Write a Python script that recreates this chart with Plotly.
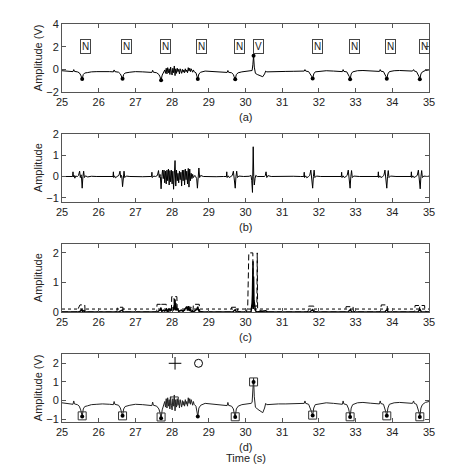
import plotly.graph_objects as go

# ---------------- data ----------------
# (a)/(d) ECG trace, time (s) and amplitude (V)
ECG_T = [25.00, 25.10, 25.20, 25.30, 25.32, 25.34, 25.42, 25.47, 25.51, 25.55, 25.58, 25.62, 25.70, 25.80, 25.95,
         26.10, 26.30, 26.40, 26.42, 26.44, 26.54, 26.59, 26.62, 26.65, 26.68, 26.72, 26.85, 27.00, 27.20, 27.35,
         27.45, 27.47, 27.49, 27.58, 27.64, 27.67, 27.70, 27.73, 27.77,
         27.80, 27.82, 27.84, 27.86, 27.88, 27.90, 27.92, 27.94, 27.96, 27.98, 28.00, 28.02, 28.04, 28.06, 28.08,
         28.10, 28.12, 28.14, 28.16, 28.18, 28.20, 28.22, 28.24, 28.26, 28.28, 28.30, 28.32, 28.34, 28.36, 28.38,
         28.40, 28.42, 28.44, 28.46, 28.48, 28.50, 28.52, 28.54, 28.56, 28.58, 28.60,
         28.65, 28.68, 28.70, 28.73, 28.78, 28.90, 29.05, 29.20, 29.40, 29.50, 29.52, 29.54, 29.62, 29.67, 29.69,
         29.72, 29.75, 29.80, 29.90, 30.05, 30.15, 30.18, 30.20, 30.22, 30.24, 30.27, 30.32, 30.40, 30.47, 30.52,
         30.55, 30.58, 30.70, 30.90, 31.10, 31.30, 31.50, 31.60, 31.62, 31.64, 31.72, 31.77, 31.80, 31.83, 31.86,
         31.90, 32.05, 32.20, 32.40, 32.60, 32.64, 32.66, 32.68, 32.76, 32.81, 32.83, 32.85, 32.88, 32.92, 33.05,
         33.20, 33.40, 33.60, 33.65, 33.67, 33.69, 33.76, 33.81, 33.83, 33.85, 33.88, 33.92, 34.05, 34.20, 34.40,
         34.55, 34.58, 34.60, 34.66, 34.71, 34.73, 34.75, 34.78, 34.82, 34.90, 35.00]
ECG_V = [-0.12, -0.15, -0.18, -0.20, -0.02, -0.18, -0.22, -0.30, -0.50, -0.85, -0.45, -0.32, -0.28, -0.22, -0.20,
         -0.18, -0.20, -0.22, -0.05, -0.20, -0.25, -0.40, -0.60, -0.82, -0.45, -0.32, -0.25, -0.20, -0.22, -0.25,
         -0.27, -0.08, -0.25, -0.30, -0.45, -0.65, -0.95, -0.50, -0.30,
         -0.05, -0.35, 0.10, -0.40, 0.15, -0.30, 0.05, -0.45, 0.20, -0.25, -0.50, 0.10, -0.30, 0.30, -0.55,
         0.05, -0.35, 0.10, -0.20, 0.00, -0.40, 0.05, -0.15, -0.35, 0.00, -0.25, -0.05, -0.30, 0.05, -0.20,
         -0.05, -0.30, 0.15, -0.15, 0.10, -0.20, 0.05, -0.10, -0.25, -0.05, -0.20,
         -0.30, -0.55, -0.85, -0.40, -0.25, -0.15, -0.18, -0.22, -0.25, -0.27, -0.10, -0.26, -0.30, -0.45, -0.65,
         -0.88, -0.45, -0.30, -0.22, -0.18, -0.15, -0.10, 0.40, 1.20, 0.20, -0.35, -0.45, -0.55, -0.65, -0.40,
         -0.15, -0.22, -0.20, -0.18, -0.18, -0.17, -0.17, -0.15, -0.02, -0.15, -0.20, -0.40, -0.60, -0.80, -0.40,
         -0.22, -0.15, -0.12, -0.15, -0.18, -0.20, -0.02, -0.18, -0.22, -0.45, -0.65, -0.88, -0.40, -0.22, -0.12,
         -0.10, -0.14, -0.16, -0.18, -0.02, -0.16, -0.20, -0.45, -0.65, -0.82, -0.40, -0.20, -0.12, -0.10, -0.13,
         -0.15, -0.02, -0.15, -0.20, -0.45, -0.65, -0.88, -0.40, -0.22, -0.10, -0.05]

# (a) detected beats and labels
R_T = [25.55, 26.65, 27.70, 28.70, 29.72, 30.22, 31.83, 32.85, 33.85, 34.75]
R_V = [-0.85, -0.82, -0.95, -0.85, -0.88, 1.20, -0.80, -0.88, -0.82, -0.88]
LABEL_T = [25.65, 26.76, 27.82, 28.81, 29.83, 30.35, 31.97, 32.98, 33.94, 34.88]
LABEL_TXT = ["N", "N", "N", "N", "N", "V", "N", "N", "N", "N"]
LABEL_Y = 2

# (b) filtered signal
B_T = [25.00, 25.10, 25.20, 25.29, 25.30, 25.31, 25.33, 25.35, 25.37, 25.42, 25.45, 25.48, 25.50, 25.52, 25.53,
       25.55, 25.57, 25.59, 25.61, 25.64, 25.70, 25.80, 25.95, 26.10, 26.25,
       26.39, 26.40, 26.41, 26.43, 26.46, 26.50, 26.55, 26.58, 26.60, 26.62, 26.63, 26.65, 26.67, 26.69, 26.71,
       26.75, 26.85, 27.00, 27.20, 27.40,
       27.44, 27.45, 27.46, 27.50, 27.55, 27.60, 27.63, 27.65, 27.67, 27.68, 27.70, 27.72, 27.74, 27.76,
       27.78, 27.80, 27.82, 27.84, 27.86, 27.88, 27.90, 27.92, 27.94, 27.96, 27.98, 28.00, 28.02, 28.04, 28.06,
       28.08, 28.10, 28.12, 28.14, 28.16, 28.18, 28.20, 28.22, 28.24, 28.26, 28.28, 28.30, 28.32, 28.34, 28.36,
       28.38, 28.40, 28.42, 28.44, 28.46, 28.48, 28.50, 28.52, 28.54, 28.56, 28.58, 28.62, 28.64, 28.67, 28.69,
       28.71, 28.73, 28.75, 28.78, 28.85, 29.00, 29.20, 29.40,
       29.48, 29.49, 29.50, 29.53, 29.56, 29.60, 29.64, 29.67, 29.69, 29.70, 29.72, 29.74, 29.76, 29.78, 29.82,
       29.95, 30.10,
       30.15, 30.17, 30.19, 30.20, 30.21, 30.225, 30.24, 30.26, 30.28, 30.32, 30.45, 30.52, 30.54, 30.56, 30.58,
       30.61, 30.70, 30.90, 31.10, 31.30, 31.50,
       31.59, 31.60, 31.61, 31.64, 31.67, 31.72, 31.75, 31.78, 31.80, 31.81, 31.83, 31.85, 31.87, 31.89, 31.93,
       32.05, 32.30, 32.50,
       32.61, 32.62, 32.63, 32.66, 32.69, 32.74, 32.77, 32.80, 32.82, 32.83, 32.85, 32.87, 32.89, 32.91, 32.95,
       33.10, 33.30, 33.50,
       33.61, 33.62, 33.63, 33.66, 33.69, 33.74, 33.77, 33.80, 33.82, 33.83, 33.85, 33.87, 33.89, 33.91, 33.95,
       34.10, 34.30, 34.45,
       34.51, 34.52, 34.53, 34.56, 34.59, 34.64, 34.68, 34.71, 34.73, 34.74, 34.76, 34.78, 34.80, 34.82, 34.86,
       34.95, 35.00]
B_V = [0.00, 0.01, -0.01, 0.00, 0.22, -0.02, 0.05, -0.08, 0.02, 0.00, 0.05, 0.25, -0.05, 0.08, 0.00,
       -0.55, 0.00, 0.25, -0.05, 0.03, -0.02, 0.01, 0.00, 0.01, -0.01,
       0.00, 0.22, -0.05, 0.03, -0.06, 0.00, 0.05, 0.25, -0.05, 0.05, 0.00, -0.48, 0.00, 0.25, -0.05,
       0.02, 0.00, 0.01, -0.01, 0.00,
       0.00, 0.20, -0.05, 0.02, 0.00, 0.05, 0.28, -0.05, 0.10, 0.00, -0.58, 0.00, 0.30, -0.10,
       0.30, -0.30, 0.25, -0.35, 0.30, -0.20, 0.35, -0.40, 0.28, -0.25, 0.30, -0.35, 0.25, -0.60, 0.20,
       0.75, -0.45, 0.30, -0.20, 0.15, -0.30, 0.25, -0.15, 0.20, -0.45, 0.30, -0.20, 0.30, -0.40, 0.35,
       -0.15, 0.25, -0.35, 0.38, -0.50, 0.35, -0.20, 0.15, -0.10, 0.10, -0.05, 0.05, 0.00, -0.10, -0.55,
       0.00, 0.40, -0.05, 0.05, 0.00, 0.01, -0.01, 0.00,
       0.00, 0.22, -0.05, 0.03, -0.05, 0.00, 0.05, 0.25, -0.05, 0.05, -0.55, 0.00, 0.25, -0.05, 0.02,
       0.00, 0.01,
       0.05, -0.20, -0.75, 0.10, 1.40, 0.00, -0.40, -0.10, 0.05, 0.00, 0.02, 0.00, 0.05, 0.22, -0.05,
       0.04, 0.00, 0.01, -0.01, 0.01, 0.00,
       0.00, 0.20, -0.05, 0.03, -0.06, 0.00, 0.05, 0.30, -0.05, 0.05, -0.55, 0.00, 0.30, -0.05, 0.02,
       0.00, 0.01, 0.00,
       0.00, 0.20, -0.05, 0.03, -0.05, 0.00, 0.05, 0.30, -0.05, 0.05, -0.55, 0.00, 0.28, -0.05, 0.02,
       0.00, 0.01, 0.00,
       0.00, 0.22, -0.05, 0.03, -0.05, 0.00, 0.05, 0.30, -0.05, 0.05, -0.55, 0.00, 0.28, -0.05, 0.02,
       0.00, 0.01, 0.00,
       0.00, 0.22, -0.05, 0.03, -0.05, 0.00, 0.05, 0.30, -0.05, 0.05, -0.58, 0.00, 0.28, -0.05, 0.02,
       0.00, 0.02]

# (c) feature signal (solid), threshold (dashed), fixed level (dotted)
S_T = [25.00, 25.45, 25.50, 25.54, 25.56, 25.60, 25.62, 26.55, 26.60, 26.64, 26.67, 27.60, 27.65, 27.70, 27.72,
       27.76, 27.80, 27.85, 27.88, 27.92, 27.95, 28.00, 28.03, 28.06, 28.07, 28.08, 28.09, 28.10, 28.12, 28.15,
       28.18, 28.25, 28.30, 28.35, 28.40, 28.42, 28.45, 28.47, 28.50, 28.52, 28.60, 28.68, 28.70, 28.72, 28.75,
       29.65, 29.70, 29.72, 29.75, 30.15, 30.18, 30.19, 30.205, 30.21, 30.215, 30.22, 30.23, 30.25, 30.27, 30.30,
       30.50, 30.55, 30.60, 31.75, 31.80, 31.83, 31.86, 32.80, 32.83, 32.86, 32.89, 33.80, 33.83, 33.86, 33.89,
       34.70, 34.73, 34.76, 34.79, 35.00]
S_V = [0.00, 0.00, 0.03, 0.08, 0.02, 0.05, 0.00, 0.00, 0.04, 0.06, 0.00, 0.00, 0.05, 0.10, 0.02,
       0.06, 0.03, 0.10, 0.02, 0.12, 0.03, 0.15, 0.05, 0.25, 0.08, 0.42, 0.05, 0.30, 0.05, 0.12,
       0.02, 0.06, 0.02, 0.10, 0.18, 0.05, 0.20, 0.04, 0.12, 0.02, 0.02, 0.10, 0.18, 0.05, 0.00,
       0.00, 0.05, 0.08, 0.00, 0.00, 0.30, 0.60, 1.72, 0.10, 1.70, 1.20, 0.40, 0.20, 0.05, 0.00,
       0.02, 0.04, 0.00, 0.00, 0.05, 0.08, 0.00, 0.00, 0.05, 0.08, 0.00, 0.00, 0.05, 0.07, 0.00,
       0.00, 0.05, 0.08, 0.00, 0.00]
TH_T = [25.00, 25.38, 25.42, 25.45, 25.47, 25.49, 25.62, 25.63, 25.68,
        26.47, 26.50, 26.51, 26.66, 26.67, 26.72,
        27.55, 27.58, 27.59, 27.68, 27.69, 27.71, 27.84, 27.85, 27.92,
        27.98, 27.99, 28.05, 28.06, 28.07, 28.13, 28.14, 28.35, 28.36, 28.52, 28.53, 28.57, 28.58, 28.74, 28.75, 28.85,
        29.58, 29.61, 29.62, 29.78, 29.79, 29.88,
        30.02, 30.06, 30.08, 30.09, 30.20, 30.21, 30.31, 30.32, 30.33, 30.40, 30.50,
        31.68, 31.71, 31.72, 31.86, 31.87, 31.95,
        32.70, 32.73, 32.74, 32.93, 32.94, 33.00,
        33.65, 33.68, 33.70, 33.86, 33.87, 33.95,
        34.58, 34.61, 34.62, 34.73, 34.74, 34.75, 34.88, 34.89, 34.95, 35.00]
TH_V = [0.00, 0.00, 0.06, 0.15, 0.22, 0.24, 0.24, 0.02, 0.00,
        0.00, 0.05, 0.16, 0.16, 0.03, 0.00,
        0.00, 0.05, 0.26, 0.26, 0.05, 0.26, 0.26, 0.02, 0.00,
        0.00, 0.52, 0.52, 0.20, 0.52, 0.52, 0.05, 0.05, 0.16, 0.16, 0.05, 0.05, 0.26, 0.26, 0.03, 0.00,
        0.00, 0.05, 0.16, 0.16, 0.02, 0.00,
        0.00, 0.15, 1.00, 2.00, 2.00, 0.20, 0.20, 2.00, 0.10, 0.05, 0.00,
        0.00, 0.05, 0.20, 0.20, 0.03, 0.00,
        0.00, 0.05, 0.18, 0.18, 0.03, 0.00,
        0.00, 0.05, 0.24, 0.24, 0.03, 0.00,
        0.00, 0.05, 0.22, 0.22, 0.05, 0.22, 0.22, 0.03, 0.00, 0.00]
DOT_T = [25.0, 35.0]
DOT_V = [0.1, 0.1]

# (d) final detections
SQ_T = [25.55, 26.65, 27.70, 28.06, 29.72, 30.22, 31.83, 32.85, 33.85, 34.75]
SQ_V = [-0.82, -0.82, -0.88, -0.02, -0.87, 1.00, -0.78, -0.87, -0.82, -0.87]
PK_T = [25.55, 26.65, 27.70, 28.70, 29.72, 30.22, 31.83, 32.85, 33.85, 34.75]
PK_V = [-0.85, -0.82, -0.95, -0.85, -0.88, 1.00, -0.80, -0.88, -0.82, -0.88]
PLUS_T, PLUS_V = [28.08], [2.0]
CIRC_T, CIRC_V = [28.72], [2.0]

X_TICKS = [25, 26, 27, 28, 29, 30, 31, 32, 33, 34, 35]
Y_TICKS = {"a": [-2, 0, 2, 4], "b": [-1, 0, 1, 2], "c": [0, 1, 2], "d": [-1, 0, 1, 2]}
Y_RANGES = {"a": [-2, 4], "b": [-1.2, 2], "c": [0, 2.3], "d": [-1.15, 2.5]}
Y_TITLES = {"a": "Amplitude (V)", "b": "Amplitude", "c": "Amplitude", "d": "Amplitude (V)"}
CAPTIONS = ["(a)", "(b)", "(c)", "(d)"]

# ---------------- figure ----------------
FONT = "Liberation Sans, Arial, sans-serif"
fig = go.Figure()
line = dict(color="black", width=1)

fig.add_trace(go.Scatter(x=ECG_T, y=ECG_V, mode="lines", line=line, xaxis="x", yaxis="y"))
fig.add_trace(go.Scatter(x=R_T, y=R_V, mode="markers", marker=dict(color="black", size=4),
                         xaxis="x", yaxis="y"))

fig.add_trace(go.Scatter(x=B_T, y=B_V, mode="lines", line=line, xaxis="x2", yaxis="y2"))

fig.add_trace(go.Scatter(x=DOT_T, y=DOT_V, mode="lines", line=dict(color="black", width=1, dash="dot"),
                         xaxis="x3", yaxis="y3"))
fig.add_trace(go.Scatter(x=TH_T, y=TH_V, mode="lines", line=dict(color="black", width=1, dash="6px,3px"),
                         xaxis="x3", yaxis="y3"))
fig.add_trace(go.Scatter(x=S_T, y=S_V, mode="lines", line=dict(color="black", width=1.5),
                         xaxis="x3", yaxis="y3"))

fig.add_trace(go.Scatter(x=ECG_T, y=ECG_V, mode="lines", line=dict(color="#222", width=1),
                         xaxis="x4", yaxis="y4"))
fig.add_trace(go.Scatter(x=SQ_T, y=SQ_V, mode="markers",
                         marker=dict(symbol="square-open", size=8, color="#333", line=dict(width=1)),
                         xaxis="x4", yaxis="y4"))
fig.add_trace(go.Scatter(x=PK_T, y=PK_V, mode="markers", marker=dict(color="black", size=4),
                         xaxis="x4", yaxis="y4"))
fig.add_trace(go.Scatter(x=PLUS_T, y=PLUS_V, mode="markers",
                         marker=dict(symbol="cross-thin-open", size=9, color="black", line=dict(width=1)),
                         xaxis="x4", yaxis="y4"))
fig.add_trace(go.Scatter(x=CIRC_T, y=CIRC_V, mode="markers",
                         marker=dict(symbol="circle-open", size=8, color="black", line=dict(width=1)),
                         xaxis="x4", yaxis="y4"))

domains = {"a": [0.829, 1.0], "b": [0.5528, 0.7236], "c": [0.2764, 0.4472], "d": [0.0, 0.1709]}
caption_y = [0.767, 0.4907, 0.2143, -0.062]

axis_common = dict(showline=True, linecolor="#555", linewidth=1, mirror="ticks", ticks="inside",
                   ticklen=4, tickcolor="#555", showgrid=False, zeroline=False,
                   tickfont=dict(family=FONT, size=11, color="#222"))
layout = dict(width=474, height=474, margin=dict(l=62, r=45, t=24, b=52),
              paper_bgcolor="white", plot_bgcolor="white", showlegend=False,
              font=dict(family=FONT, size=11, color="#222"))
txtfont = dict(family=FONT, size=11, color="#222")
annotations = []
for i, k in enumerate(["a", "b", "c", "d"]):
    s = "" if i == 0 else str(i + 1)
    layout["xaxis" + s] = dict(axis_common, domain=[0, 1], range=[25, 35], tickvals=X_TICKS,
                               anchor="y" + s)
    layout["yaxis" + s] = dict(axis_common, domain=domains[k], range=Y_RANGES[k], tickvals=Y_TICKS[k],
                               anchor="x" + s)
    annotations.append(dict(text=CAPTIONS[i], xref="paper", yref="paper", x=0.5, y=caption_y[i],
                            xanchor="center", yanchor="middle", showarrow=False, font=txtfont))
    annotations.append(dict(text=Y_TITLES[k], xref="paper", yref="paper", x=-0.065,
                            y=sum(domains[k]) / 2, xanchor="center", yanchor="middle",
                            textangle=-90, showarrow=False, font=txtfont))
annotations.append(dict(text="Time (s)", xref="paper", yref="paper", x=0.5, y=-0.0897,
                        xanchor="center", yanchor="middle", showarrow=False, font=txtfont))
for t, txt in zip(LABEL_T, LABEL_TXT):
    annotations.append(dict(text=txt, x=t, y=LABEL_Y, xref="x", yref="y", showarrow=False,
                            xanchor="center", yanchor="middle",
                            bordercolor="#444", borderwidth=1, borderpad=1, bgcolor="rgba(0,0,0,0)",
                            font=dict(family=FONT, size=10, color="#222")))
layout["annotations"] = annotations
fig.update_layout(**layout)
fig.write_html("out.html", config={"displayModeBar": False},
               post_script="document.body.style.margin='0px';")
